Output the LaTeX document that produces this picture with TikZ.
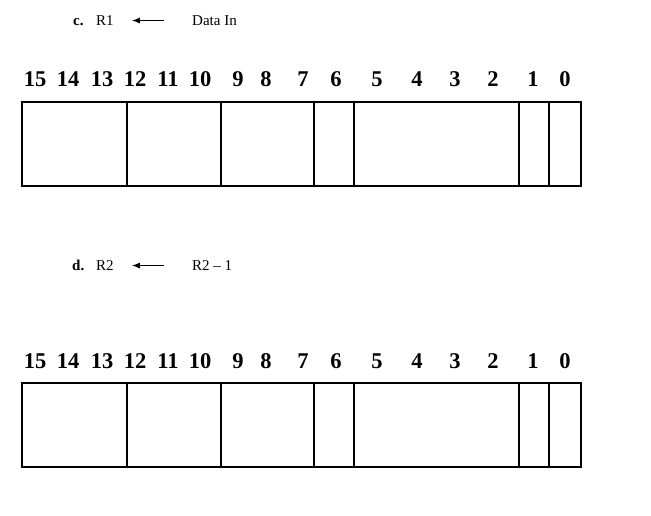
\documentclass[tikz,border=0pt]{standalone}
\usepackage{fontspec}
\setmainfont{Liberation Serif}
\usepackage{xcolor}
\usetikzlibrary{arrows.meta}

\tikzset{
    bitnum/.style={anchor=base, inner sep=0pt, font=\fontsize{22.5}{22.5}\selectfont\bfseries},
    oplabel/.style={anchor=base west, inner sep=0pt, font=\fontsize{15}{15}\selectfont},
    larrow/.style={{Latex[length=8pt,width=6pt]}-, line width=1pt, shorten <=18pt, shorten >=28pt}
}

\begin{document}
\begin{tikzpicture}[x=1pt,y=-1pt]
    \useasboundingbox (0,0) rectangle (651,516);
    % register operations
    \node[oplabel] (c) at (73,25.5) {\textbf{c.}};
    \node[oplabel] (r1) at (96,25.5) {R1};
    \node[oplabel] (din) at (192,25.5) {Data In};
    \draw[larrow] (r1.east) -- (r1.east -| din.west);
    \node[oplabel] (d) at (72,270.5) {\textbf{d.}};
    \node[oplabel] (r2) at (96,270.5) {R2};
    \node[oplabel] (dec) at (192,270.5) {R2 -- 1};
    \draw[larrow] (r2.east) -- (r2.east -| dec.west);
    % bit fields
    \foreach \yo/\reg in {0/top,281/bot} {
        \draw [line width=1.6pt, draw=black]
        (22,102+\yo) rectangle (581,186+\yo)
        (127,102+\yo) -- (127,186+\yo)
        (221,102+\yo) -- (221,186+\yo)
        (314,102+\yo) -- (314,186+\yo)
        (354,102+\yo) -- (354,186+\yo)
        (519,102+\yo) -- (519,186+\yo)
        (549,102+\yo) -- (549,186+\yo);
        \foreach \b/\x in {15/35,14/68,13/102,12/135,11/168,10/200,9/238,8/266,
                           7/303,6/336,5/377,4/417,3/455,2/493,1/533,0/565}
            \node[bitnum] (\reg-\b) at (\x,87+\yo) {\b};
    }
\end{tikzpicture}
\end{document}
